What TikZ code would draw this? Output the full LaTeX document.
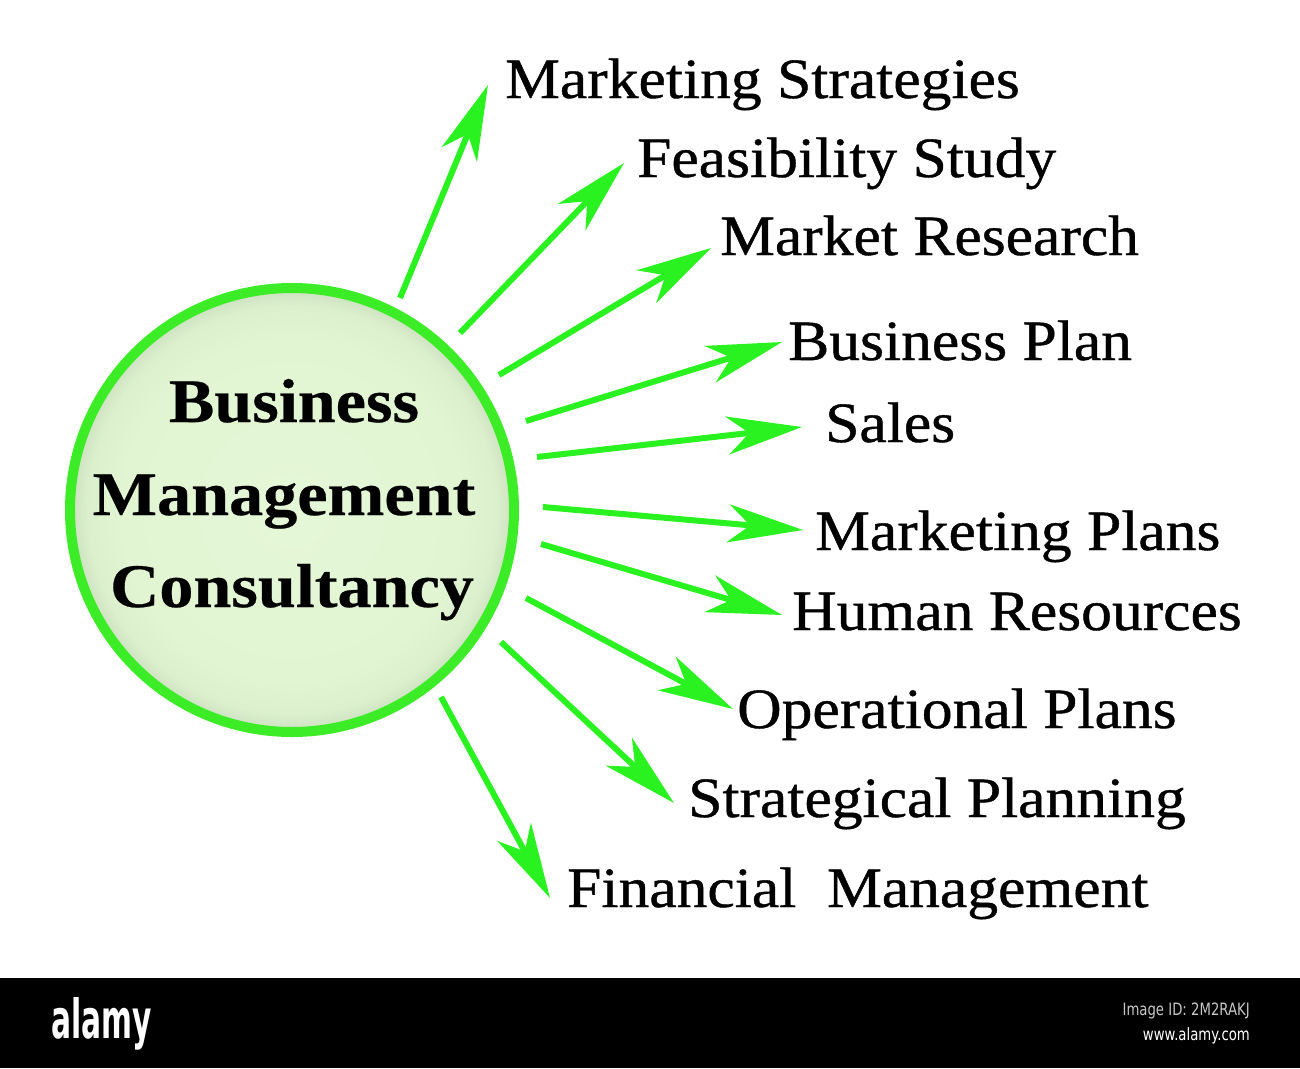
\documentclass[tikz,border=0pt]{standalone}
\usepackage{fontspec}
\usepackage{graphicx}
\setmainfont{Liberation Serif}
\newfontfamily\itemfont[FakeBold=0.7]{Liberation Serif}
\newfontfamily\hubfont[BoldFeatures={FakeBold=0.4}]{Liberation Serif}
\newfontfamily\logofont{DejaVu Sans}
\usetikzlibrary{arrows.meta}
\definecolor{arrowgreen}{RGB}{42,242,32}
\definecolor{ringgreen}{RGB}{60,236,38}
\definecolor{idgray}{RGB}{200,200,200}
\pgfdeclareradialshading{hubshade}{\pgfpoint{0bp}{0bp}}{%
  rgb(0bp)=(0.895,0.968,0.840);
  rgb(19bp)=(0.885,0.962,0.828);
  rgb(23bp)=(0.860,0.940,0.805);
  rgb(25bp)=(0.800,0.880,0.750);
  rgb(50bp)=(0.800,0.880,0.750)}
\newcommand{\widetext}[1]{\scalebox{1.08}[1]{#1}}
\newcommand{\widehub}[1]{\scalebox{1.1}[1]{#1}}
\begin{document}
\begin{tikzpicture}[x=1pt,y=-1pt,
  hub/.style={circle, draw=ringgreen, line width=10pt, shading=hubshade,
    minimum size=444pt, inner sep=0pt},
  hubtext/.style={anchor=base, inner sep=0pt,
    font=\hubfont\fontsize{62}{64}\selectfont\bfseries},
  itemtext/.style={anchor=base west, inner sep=0pt,
    font=\itemfont\fontsize{57}{59}\selectfont},
  spoke/.style={draw=arrowgreen, line width=6pt,
    -{Stealth[length=75pt,width=38pt,inset=22pt]}},
  barlogo/.style={anchor=base west, inner sep=0pt, text=white,
    font=\logofont\bfseries\fontsize{54}{54}\selectfont},
  barinfo/.style={anchor=base east, inner sep=0pt,
    font=\logofont\fontsize{17}{17}\selectfont}
]
\useasboundingbox (0,0) rectangle (1300,1068);
\fill[white] (0,0) rectangle (1300,978);
\fill[black] (0,978) rectangle (1300,1068);

% central circle
\node[hub] (hub) at (292,510) {};
\node[hubtext] (h1) at (294,422) {\widehub{Business}};
\node[hubtext] (h2) at (284,515) {\widehub{Management}};
\node[hubtext] (h3) at (292,607) {\widehub{Consultancy}};

% labels
\node[itemtext] (l1)  at (505,98)  {\widetext{Marketing Strategies}};
\node[itemtext] (l2)  at (637,177) {\widetext{Feasibility Study}};
\node[itemtext] (l3)  at (720,255) {\widetext{Market Research}};
\node[itemtext] (l4)  at (788,360) {\widetext{Business Plan}};
\node[itemtext] (l5)  at (825,442) {\widetext{Sales}};
\node[itemtext] (l6)  at (815,550) {\widetext{Marketing Plans}};
\node[itemtext] (l7)  at (792,630) {\widetext{Human Resources}};
\node[itemtext] (l8)  at (737,728) {\widetext{Operational Plans}};
\node[itemtext] (l9)  at (688,817) {\widetext{Strategical Planning}};
\node[itemtext] (l10) at (567,907) {\widetext{Financial~~Management}};

% arrow ends
\coordinate (s1)  at (400,298);  \coordinate (t1)  at (488,85);
\coordinate (s2)  at (460,333);  \coordinate (t2)  at (624,163);
\coordinate (s3)  at (499,375);  \coordinate (t3)  at (711,248);
\coordinate (s4)  at (526,421);  \coordinate (t4)  at (782,342);
\coordinate (s5)  at (537,457);  \coordinate (t5)  at (802,427);
\coordinate (s6)  at (543,507);  \coordinate (t6)  at (803,530);
\coordinate (s7)  at (541,544);  \coordinate (t7)  at (782,615);
\coordinate (s8)  at (526,598);  \coordinate (t8)  at (733,709);
\coordinate (s9)  at (501,642);  \coordinate (t9)  at (674,803);
\coordinate (s10) at (441,697);  \coordinate (t10) at (550,898);

\foreach \i in {1,...,10}{
  \draw[spoke] (s\i) -- (t\i);
}

% bottom bar
\node[barlogo] (logo) at (51,1038) {\scalebox{0.55}[1]{alamy}};
\node[barinfo, text=idgray] (imgid) at (1250,1015) {\scalebox{0.78}[1]{Image ID: 2M2RAKJ}};
\node[barinfo, text=white] (www) at (1250,1040) {\scalebox{0.78}[1]{www.alamy.com}};
\end{tikzpicture}
\end{document}
